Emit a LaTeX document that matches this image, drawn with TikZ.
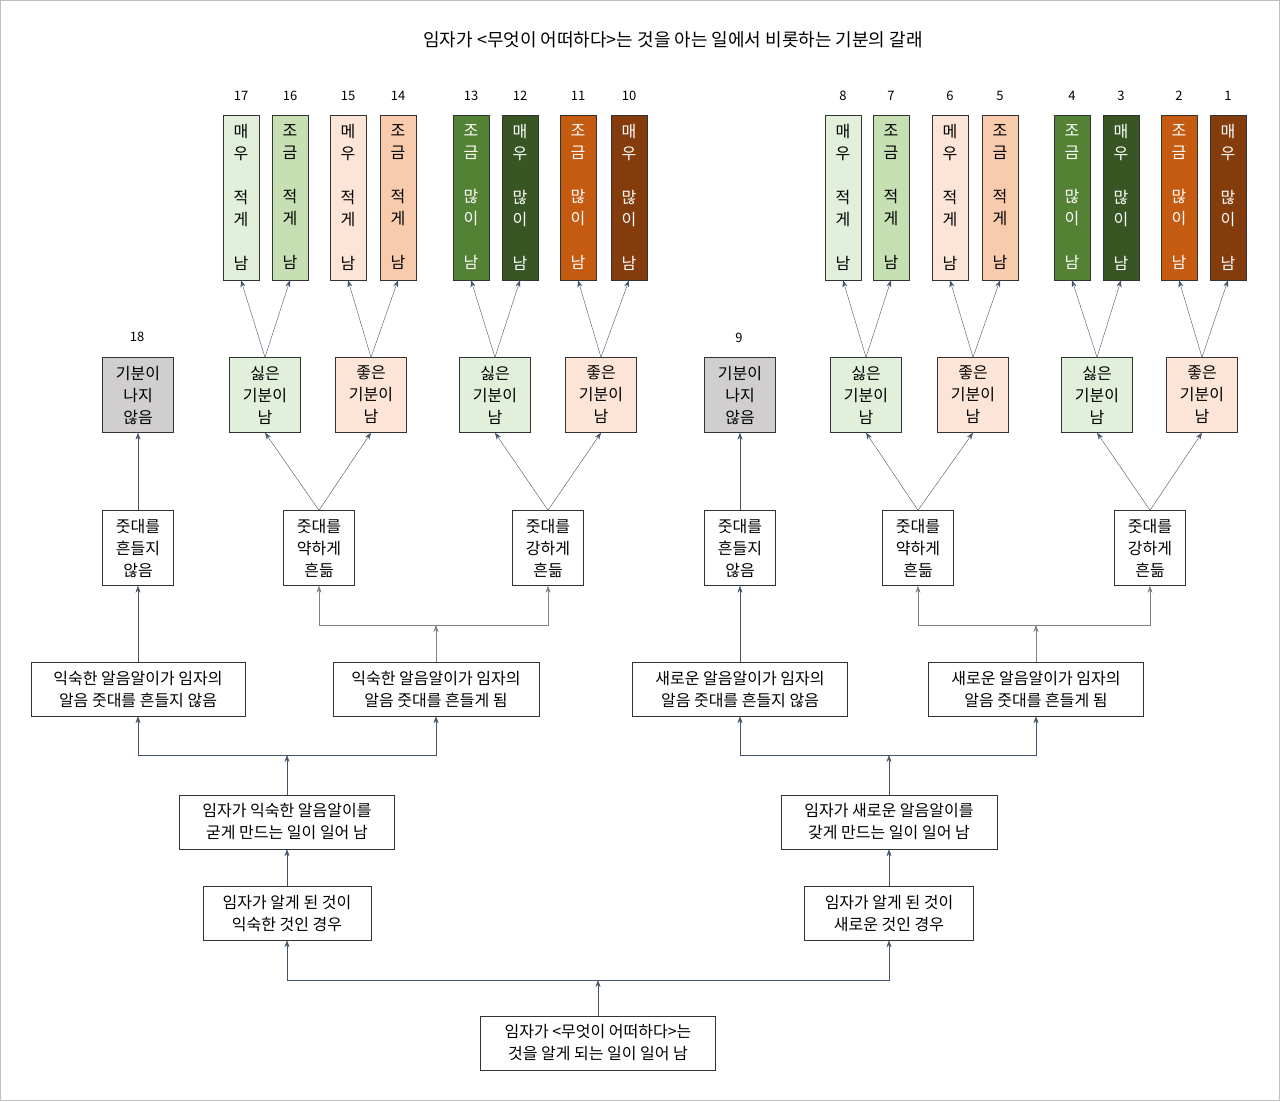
\documentclass[tikz,border=0pt]{standalone}
\usepackage{fontspec}
\setmainfont{Noto Sans CJK KR}
\usetikzlibrary{arrows.meta}
\definecolor{lgreen}{HTML}{E2EFDA}
\definecolor{mgreen}{HTML}{C6E0B4}
\definecolor{lpeach}{HTML}{FCE4D6}
\definecolor{peach}{HTML}{F8CBAD}
\definecolor{green}{HTML}{548235}
\definecolor{dgreen}{HTML}{375623}
\definecolor{orange}{HTML}{C55A11}
\definecolor{brown}{HTML}{843C0C}
\definecolor{moodgray}{HTML}{D0CECE}
\definecolor{linegray}{HTML}{44546A}
\tikzset{
	every box/.style={
		draw=black!80,
		align=center,
		inner sep=2pt,
		font=\fontsize{16}{22}\selectfont
	},
	bar box/.style={
		every box,
		minimum width=36pt,
		minimum height=165pt
	},
	mood box/.style={
		every box,
		minimum width=71pt,
		minimum height=75pt
	},
	wide box/.style={
		every box,
		minimum height=54pt
	},
	num/.style={font=\fontsize{13}{15}\selectfont},
	link/.style={draw=linegray, -{Stealth[length=7pt,width=5pt]}},
	bus/.style={draw=gray}
}
\begin{document}
\begin{tikzpicture}[x=1pt, y=-1pt]

\useasboundingbox (0,0) rectangle (1280,1101);
\draw [gray!50] (0.5,0.5) rectangle (1279.5,1100.5);

\node [font=\fontsize{18}{22}\selectfont] (title) at (673,40)
	{임자가 <무엇이 어떠하다>는 것을 아는 일에서 비롯하는 기분의 갈래};

% top bars
\foreach \n/\x/\c/\t/\p/\q/\r/\s in {
	17/241/lgreen/black/매/우/적/게, 16/290/mgreen/black/조/금/적/게,
	15/348/lpeach/black/메/우/적/게, 14/398/peach/black/조/금/적/게,
	13/471/green/white/조/금/많/이, 12/520/dgreen/white/매/우/많/이,
	11/578/orange/white/조/금/많/이, 10/629/brown/white/매/우/많/이,
	8/843/lgreen/black/매/우/적/게, 7/891/mgreen/black/조/금/적/게,
	6/950/lpeach/black/메/우/적/게, 5/1000/peach/black/조/금/적/게,
	4/1072/green/white/조/금/많/이, 3/1121/dgreen/white/매/우/많/이,
	2/1179/orange/white/조/금/많/이, 1/1228/brown/white/매/우/많/이} {
	\node [bar box, fill=\c, text=\t] (b\n) at (\x,197.5)
		{\p\\\q\\\mbox{}\\\r\\\s\\\mbox{}\\남};
	\node [num] (n\n) at (\x,96) {\n};
}

% moods
\node [mood box, fill=moodgray] (m18) at (138,395) {기분이\\나지\\않음};
\node [num] (n18) at (137,337) {18};
\node [mood box, fill=moodgray] (m9) at (740,395) {기분이\\나지\\않음};
\node [num] (n9) at (739,338) {9};
\foreach \m/\x/\c/\w/\i/\j in {
	a/265/lgreen/싫은/17/16, b/371/lpeach/좋은/15/14,
	c/495/lgreen/싫은/13/12, d/601/lpeach/좋은/11/10,
	e/866/lgreen/싫은/8/7, f/973/lpeach/좋은/6/5,
	g/1097/lgreen/싫은/4/3, h/1202/lpeach/좋은/2/1} {
	\node [mood box, fill=\c] (m\m) at (\x,395) {\w\\기분이\\남};
	\draw [link] (m\m.north) -- (b\i.south);
	\draw [link] (m\m.north) -- (b\j.south);
}

% shaking
\node [mood box] (s1) at (138,548) {줏대를\\흔들지\\않음};
\node [mood box] (s2) at (319,548) {줏대를\\약하게\\흔듦};
\node [mood box] (s3) at (548,548) {줏대를\\강하게\\흔듦};
\node [mood box] (s4) at (740,548) {줏대를\\흔들지\\않음};
\node [mood box] (s5) at (918,548) {줏대를\\약하게\\흔듦};
\node [mood box] (s6) at (1150,548) {줏대를\\강하게\\흔듦};

\draw [link] (s1.north) -- (m18.south);
\draw [link] (s4.north) -- (m9.south);
\draw [link] (s2.north) -- (ma.south);
\draw [link] (s2.north) -- (mb.south);
\draw [link] (s3.north) -- (mc.south);
\draw [link] (s3.north) -- (md.south);
\draw [link] (s5.north) -- (me.south);
\draw [link] (s5.north) -- (mf.south);
\draw [link] (s6.north) -- (mg.south);
\draw [link] (s6.north) -- (mh.south);

% knowing
\node [wide box, minimum width=214pt] (k1) at (138,689) {익숙한 알음알이가 임자의\\알음 줏대를 흔들지 않음};
\node [wide box, minimum width=206pt] (k2) at (436,689) {익숙한 알음알이가 임자의\\알음 줏대를 흔들게 됨};
\node [wide box, minimum width=215pt] (k3) at (740,689) {새로운 알음알이가 임자의\\알음 줏대를 흔들지 않음};
\node [wide box, minimum width=215pt] (k4) at (1036,689) {새로운 알음알이가 임자의\\알음 줏대를 흔들게 됨};

\draw [link] (k1.north) -- (s1.south);
\draw [link] (k3.north) -- (s4.south);
\coordinate (j2) at (436,625);
\coordinate (j4) at (1036,625);
\draw [link, draw=gray] (k2.north) -- (j2);
\draw [link, draw=gray] (k4.north) -- (j4);
\draw [link, draw=gray] (j2) -| (s2.south);
\draw [link, draw=gray] (j2) -| (s3.south);
\draw [link, draw=gray] (j4) -| (s5.south);
\draw [link, draw=gray] (j4) -| (s6.south);

% making
\node [wide box, minimum width=215pt] (w1) at (287,822) {임자가 익숙한 알음알이를\\굳게 만드는 일이 일어 남};
\node [wide box, minimum width=216pt] (w2) at (889,822) {임자가 새로운 알음알이를\\갖게 만드는 일이 일어 남};
\coordinate (jw1) at (287,755);
\coordinate (jw2) at (889,755);
\draw [link] (w1.north) -- (jw1);
\draw [link] (w2.north) -- (jw2);
\draw [link] (jw1) -| (k1.south);
\draw [link] (jw1) -| (k2.south);
\draw [link] (jw2) -| (k3.south);
\draw [link] (jw2) -| (k4.south);

% case
\node [wide box, minimum width=168pt] (c1) at (287,913) {임자가 알게 된 것이\\익숙한 것인 경우};
\node [wide box, minimum width=169pt] (c2) at (889,913) {임자가 알게 된 것이\\새로운 것인 경우};
\draw [link] (c1.north) -- (w1.south);
\draw [link] (c2.north) -- (w2.south);

% root
\node [wide box, minimum width=235pt] (root) at (598,1043) {임자가 <무엇이 어떠하다>는\\것을 알게 되는 일이 일어 남};
\coordinate (jr) at (598,980);
\draw [link] (root.north) -- (jr);
\draw [link] (jr) -| (c1.south);
\draw [link] (jr) -| (c2.south);

\end{tikzpicture}
\end{document}
